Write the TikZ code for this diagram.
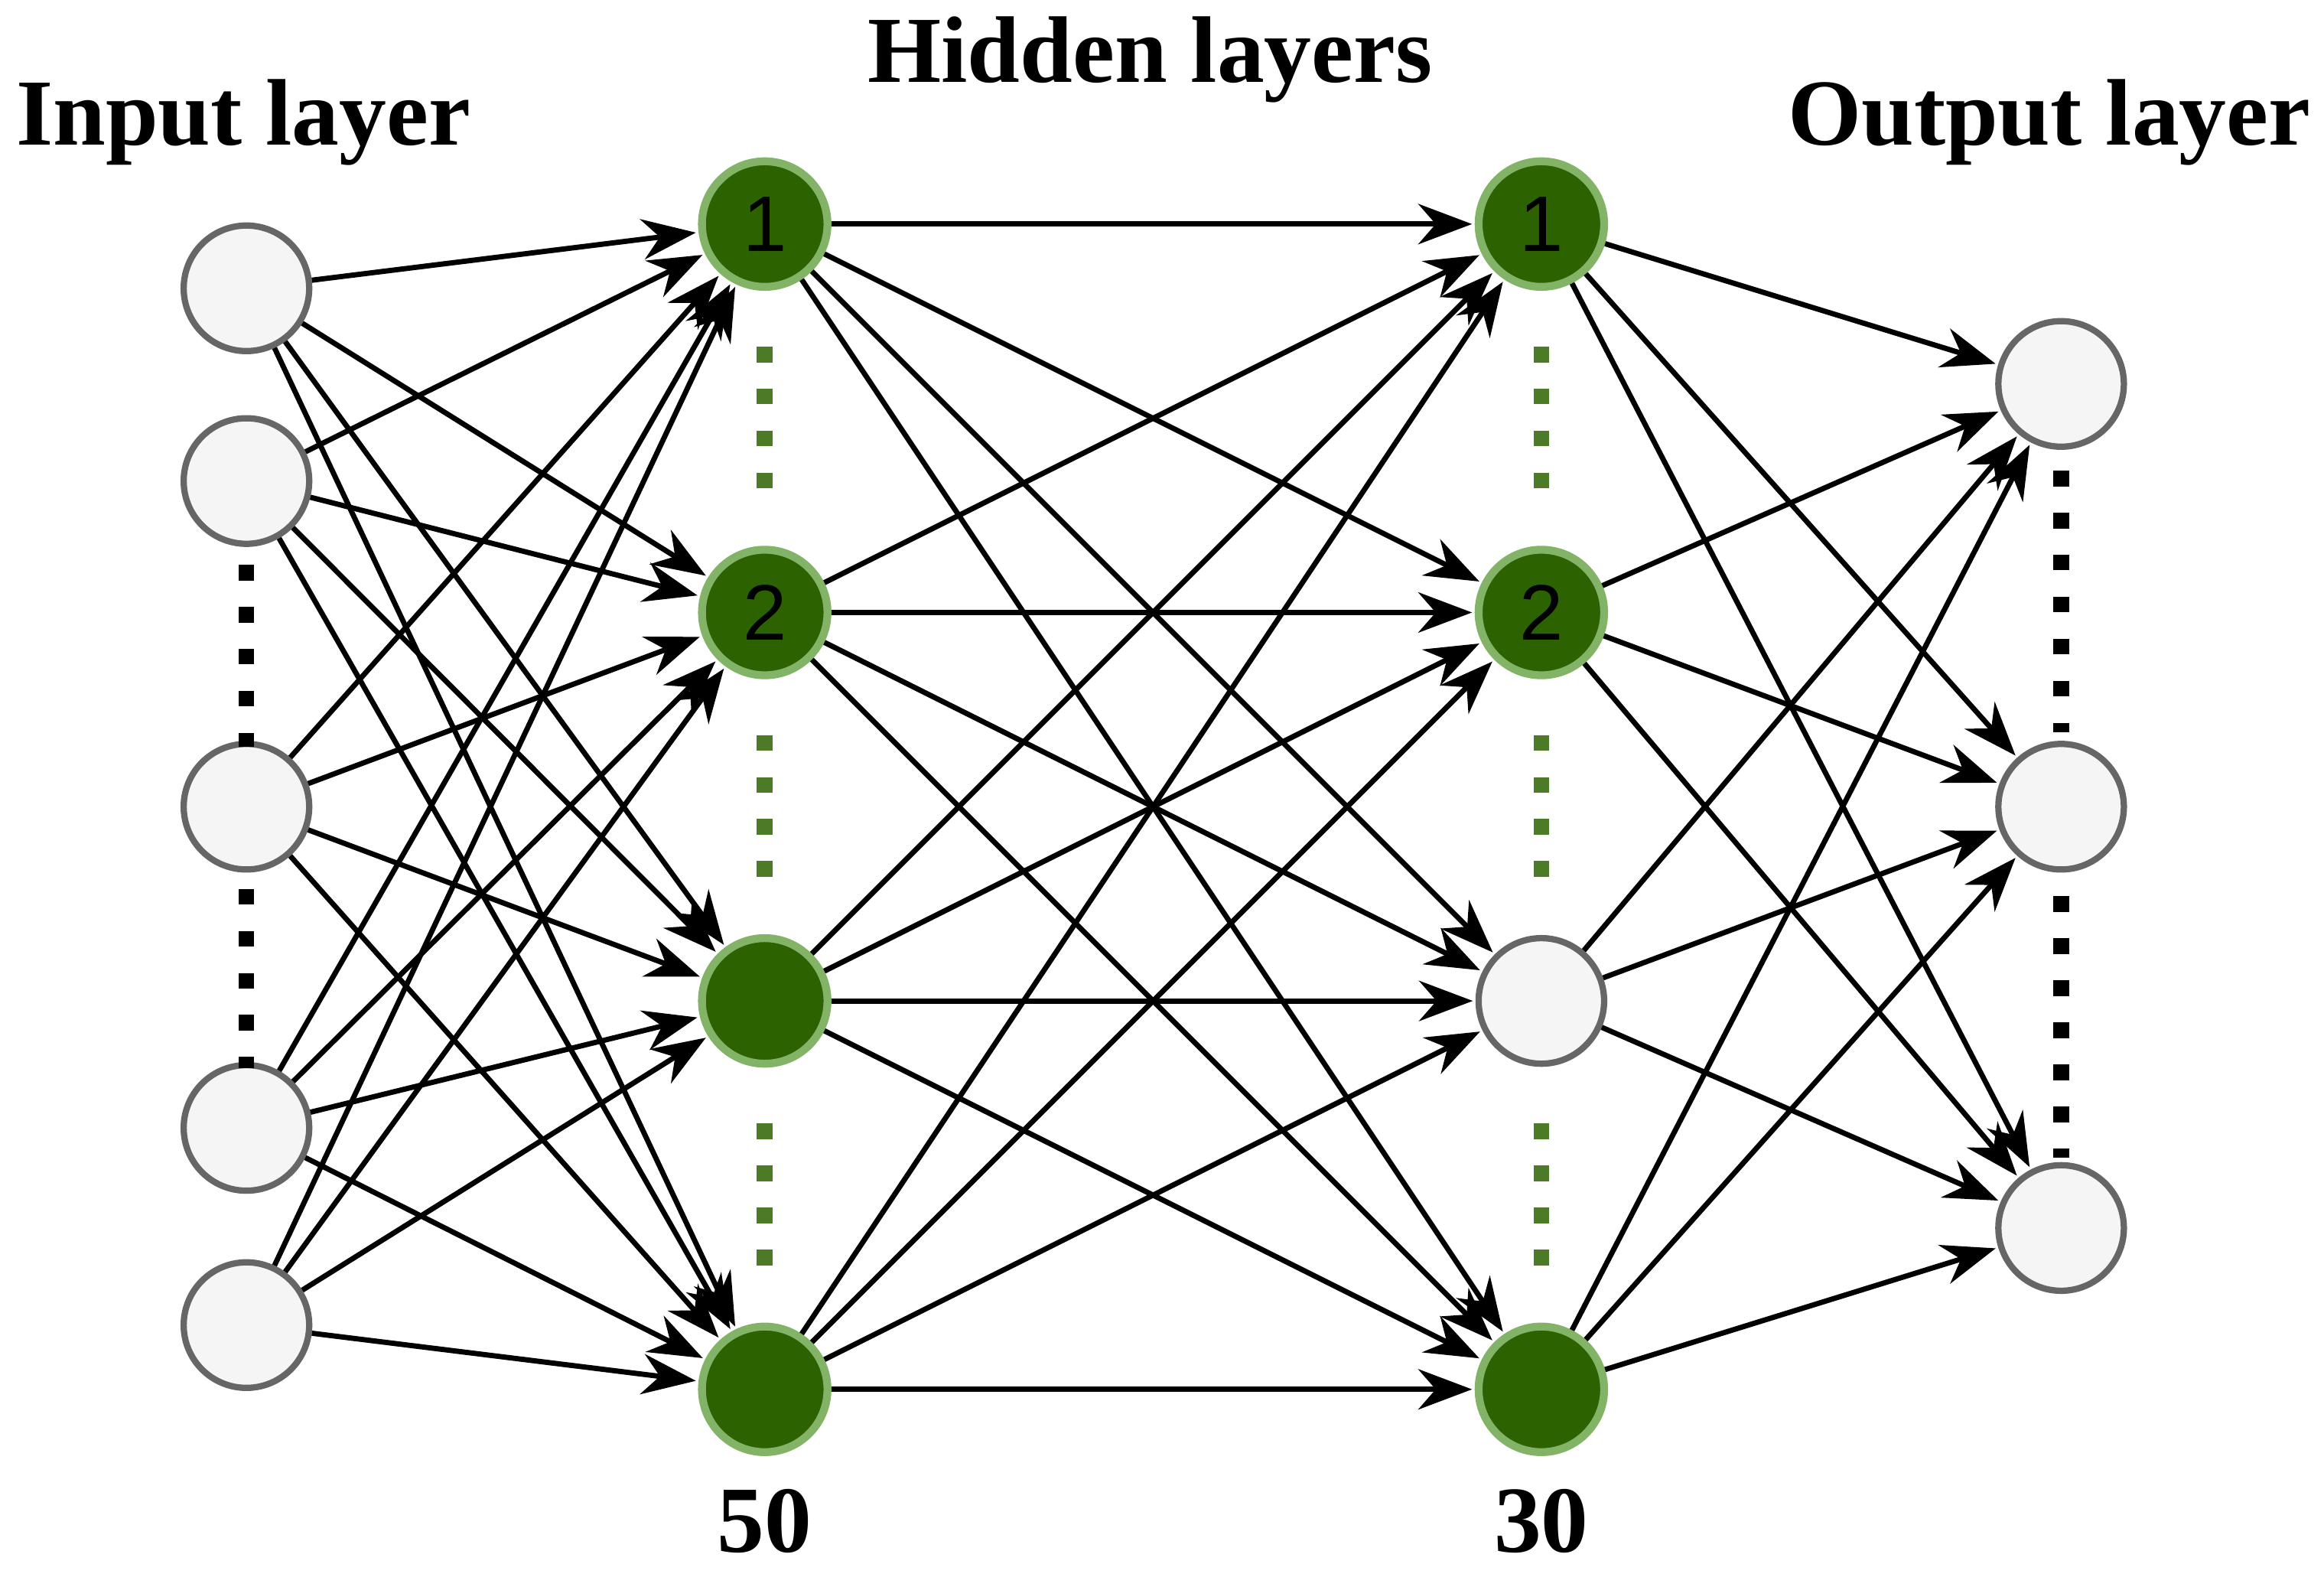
\documentclass[tikz,border=0pt]{standalone}
\usepackage{fontspec}
\setmainfont{Liberation Serif}
\newfontfamily\sansf{Liberation Sans}
\usetikzlibrary{arrows.meta}
\definecolor{hid}{HTML}{2D6200}
\definecolor{hidb}{HTML}{82B366}
\definecolor{wfill}{HTML}{F5F5F5}
\definecolor{wb}{HTML}{666666}
\begin{document}
\begin{tikzpicture}[x=0.01cm,y=-0.01cm,
  wn/.style={circle,draw=wb,fill=wfill,line width=1.2pt,minimum size=0.84cm,inner sep=0},
  gn/.style={circle,draw=hidb,fill=hid,line width=1.5pt,minimum size=0.84cm,inner sep=0,font=\sansf\fontsize{15}{15}\selectfont},
  ed/.style={-{Stealth[length=0.36cm,width=0.27cm]},line width=1pt,shorten >=0.5pt},
  ttl/.style={font=\bfseries\fontsize{18}{20}\selectfont},
  gdot/.style={hid!85!white,line width=3pt,dash pattern=on 3pt off 5pt},
  bdot/.style={black,line width=3pt,dash pattern=on 3pt off 5pt}]
\useasboundingbox (0,0) rectangle (1556,1064);
\node[wn] (i1) at (165,193) {};
\node[wn] (i2) at (165,322) {};
\node[wn] (i3) at (165,540) {};
\node[wn] (i4) at (165,755) {};
\node[wn] (i5) at (165,887) {};
\node[gn] (a1) at (512,150) {1};
\node[gn] (a2) at (512,410) {2};
\node[gn] (a3) at (512,670) {};
\node[gn] (a4) at (512,930) {};
\node[gn] (b1) at (1032,150) {1};
\node[gn] (b2) at (1032,410) {2};
\node[wn] (b3) at (1032,670) {};
\node[gn] (b4) at (1032,930) {};
\node[wn] (o1) at (1380,257) {};
\node[wn] (o2) at (1380,540) {};
\node[wn] (o3) at (1380,822) {};
\draw[bdot] (165,378) -- (165,500);
\draw[bdot] (165,595) -- (165,715);
\draw[bdot] (1380,315) -- (1380,490);
\draw[bdot] (1380,600) -- (1380,775);
\foreach \y in {150,410,670}
  \draw[gdot] (512,\y+82) -- (512,\y+188);
\foreach \y in {150,410,670}
  \draw[gdot] (1032,\y+82) -- (1032,\y+188);
\foreach \s in {i1,i2,i3,i4,i5}
  \foreach \t in {a1,a2,a3,a4}
    \draw[ed] (\s) -- (\t);
\foreach \s in {a1,a2,a3,a4}
  \foreach \t in {b1,b2,b3,b4}
    \draw[ed] (\s) -- (\t);
\foreach \s in {b1,b2,b3,b4}
  \foreach \t in {o1,o2,o3}
    \draw[ed] (\s) -- (\t);
\node[ttl] (tin) at (163,82) {Input layer};
\node[ttl] (thid) at (770,40) {Hidden layers};
\node[ttl] (tout) at (1372,82) {Output layer};
\node[ttl] (n50) at (512,1018) {50};
\node[ttl] (n30) at (1032,1018) {30};
\end{tikzpicture}
\end{document}
